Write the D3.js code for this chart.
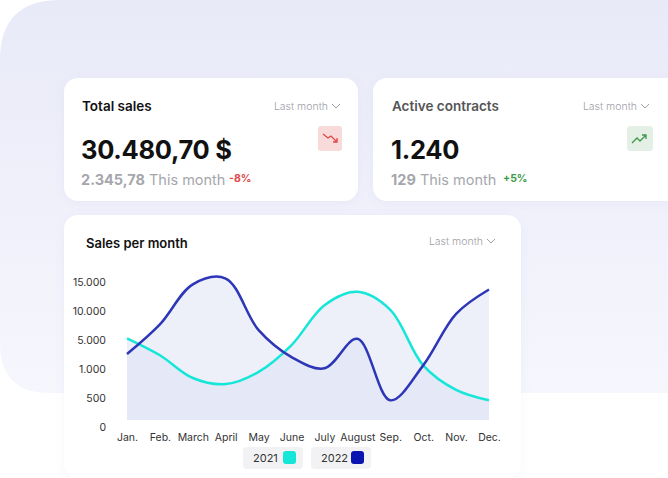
<!DOCTYPE html><html><head><meta charset="utf-8">
<script src="https://cdn.jsdelivr.net/npm/d3@7"></script>
<style>body{margin:0;background:#fff;font-family:Inter,"Noto Sans",sans-serif}</style></head><body>
<svg id="c" width="668" height="478"></svg>
<script>
const months=["Jan.","Feb.","March","April","May","June","July","August","Sep.","Oct.","Nov.","Dec."];
const yTicks=[0,500,1000,5000,10000,15000];
const yTickLabels=["0","500","1.000","5.000","10.000","15.000"];
const s2021=[5300,2900,845,740,950,4300,11000,13300,10200,1500,640,460];
const s2022=[3070,7700,14600,15600,6700,2650,1100,5200,460,1500,9500,13700];
const svg=d3.select("#c");
const defs=svg.append("defs");
const g=defs.append("linearGradient").attr("id","bg").attr("x1",0).attr("y1",0).attr("x2",0).attr("y2",1);
g.append("stop").attr("offset",0).attr("stop-color","#e9eaf8");
g.append("stop").attr("offset",1).attr("stop-color","#f6f6fd");
svg.append("path").attr("d","M0,60 Q0,0 60,0 L668,0 L668,393 L50,393 Q0,393 0,343 Z").attr("fill","url(#bg)");
const sh=defs.append("filter").attr("id","sh").attr("x","-10%").attr("y","-10%").attr("width","120%").attr("height","130%");
sh.append("feDropShadow").attr("dx",0).attr("dy",2).attr("stdDeviation",4).attr("flood-color","#8088c0").attr("flood-opacity",0.08);
function card(x,y,w,h){svg.append("rect").attr("x",x).attr("y",y).attr("width",w).attr("height",h).attr("rx",14).attr("fill","#fff").attr("filter","url(#sh)");}
card(64,78,294,123);card(373,78,310,123);card(64,215,457,263);
function txt(x,y,t,size,fill,weight,anchor){return svg.append("text").attr("x",x).attr("y",y).text(t).attr("font-size",size).attr("fill",fill).attr("font-weight",weight||400).attr("text-anchor",anchor||"start");}
function lm(x,y){txt(x,y,"Last month",10.5,"#a0a0a8",300,"end");svg.append("path").attr("d",`M${x+4},${y-6} l4,4 l4,-4`).attr("fill","none").attr("stroke","#a0a0a8").attr("stroke-width",1);}
txt(82,111,"Total sales",13.5,"#111",600);lm(328,110);
txt(81,159,"30.480,70 $",25.5,"#111",700).attr("letter-spacing",-0.3);
const t1=txt(81,185,"",14.5,"#a6a6ad",400);t1.append("tspan").attr("font-weight",700).text("2.345,78");t1.append("tspan").text(" This month");
txt(229,182,"-8%",10.5,"#e04848",700);
svg.append("rect").attr("x",318).attr("y",126).attr("width",24).attr("height",25).attr("rx",3).attr("fill","#f8dada");
svg.append("path").attr("d","M323,134 l5,4 l3,-2 l6,6 m0,-4 v4 h-4").attr("fill","none").attr("stroke","#e04848").attr("stroke-width",1.3);
txt(392,111,"Active contracts",13.5,"#555",600);lm(637,110);
txt(391,159,"1.240",25.5,"#111",700).attr("letter-spacing",-0.3);
const t2=txt(391,185,"",14.5,"#a6a6ad",400);t2.append("tspan").attr("font-weight",700).text("129");t2.append("tspan").text(" This month");
txt(503,182,"+5%",10.5,"#3c9a48",700);
svg.append("rect").attr("x",627).attr("y",126).attr("width",26).attr("height",25).attr("rx",3).attr("fill","#e4efe6");
svg.append("path").attr("d","M632,143 l5,-5 l3,3 l6,-6 m-4,0 h4 v4").attr("fill","none").attr("stroke","#3c9a48").attr("stroke-width",1.3);
txt(86,248,"Sales per month",13,"#111",600);lm(483,245);
const x=d3.scalePoint().domain(months).range([127,489]);
const y=d3.scaleLinear().domain(yTicks).range([427,398,369,340,311,282]);
const yv=v=>{if(v>15000)return y(15000)-(v-15000)/5000*29;return y(v);};
const ax=svg.append("g").attr("transform","translate(0,434)").call(d3.axisBottom(x).tickSize(0).tickPadding(0));
ax.select(".domain").remove();ax.selectAll("text").attr("font-size",10.5).attr("fill","#333").attr("font-family","Inter,sans-serif");
const ay=svg.append("g").attr("transform","translate(106,0)").call(d3.axisLeft(y).tickValues(yTicks).tickFormat((d,i)=>yTickLabels[i]).tickSize(0).tickPadding(0));
ay.select(".domain").remove();ay.selectAll("text").attr("font-size",10.5).attr("fill","#333").attr("font-family","Inter,sans-serif").attr("dy","0.32em");
const curve=d3.curveCatmullRom.alpha(0.5);
const area=d3.area().x((d,i)=>x(months[i])).y0(420).y1(d=>yv(d)).curve(curve);
const line=d3.line().x((d,i)=>x(months[i])).y(d=>yv(d)).curve(curve);
[s2022,s2021].forEach(s=>svg.append("path").attr("d",area(s)).attr("fill","#dfe1f4").attr("opacity",0.55));
svg.append("path").attr("d",line(s2021)).attr("fill","none").attr("stroke","#14e6d8").attr("stroke-width",2.5);
svg.append("path").attr("d",line(s2022)).attr("fill","none").attr("stroke","#2e36b8").attr("stroke-width",2.5);
function leg(xp,t,c){svg.append("rect").attr("x",xp).attr("y",447).attr("width",60).attr("height",22).attr("rx",4).attr("fill","#f2f2f4");
txt(xp+10,462,t,11,"#333",400);svg.append("rect").attr("x",xp+40).attr("y",451).attr("width",13).attr("height",13).attr("rx",3).attr("fill",c);}
leg(243,"2021","#14e6d8");leg(311,"2022","#0a14b0");
</script></body></html>
